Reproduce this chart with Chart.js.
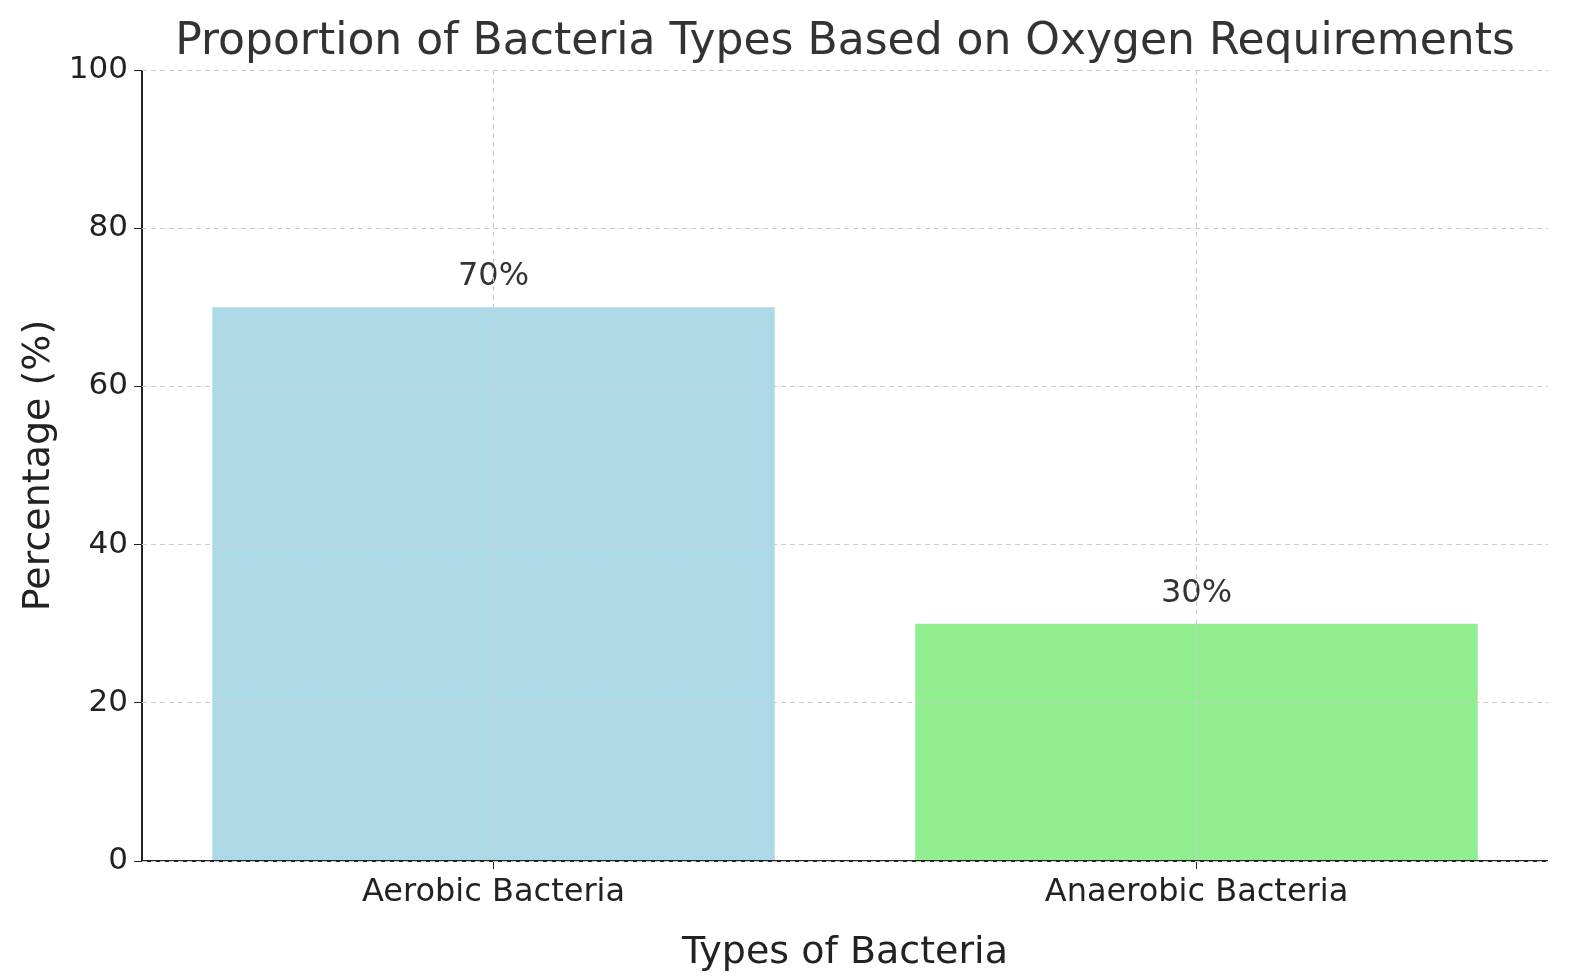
<!DOCTYPE html>
<html><head><meta charset="utf-8">
<script src="https://cdn.jsdelivr.net/npm/chart.js@4"></script>
<style>html,body{margin:0;padding:0;background:#fff;overflow:hidden}#w{width:1580px;height:980px}</style>
</head><body><div id="w"><canvas id="c"></canvas></div>
<script>
const categories = ["Aerobic Bacteria", "Anaerobic Bacteria"];
const percentages = [70, 30];
const barColors = ["#add8e6", "#90ee90"];
const yTicks = [0, 20, 40, 60, 80, 100];

const F = "'DejaVu Sans', sans-serif";
const labelPlugin = {
  id: 'labels',
  afterDatasetsDraw(chart) {
    const ctx = chart.ctx;
    const a = chart.chartArea;
    const meta = chart.getDatasetMeta(0);
    ctx.save();
    ctx.strokeStyle = '#222';
    ctx.lineWidth = 2;
    ctx.beginPath();
    ctx.moveTo(a.left, a.top); ctx.lineTo(a.left, a.bottom); ctx.lineTo(a.right, a.bottom);
    ctx.stroke();
    ctx.fillStyle = '#333';
    ctx.font = "32px " + F;
    ctx.textAlign = 'center';
    ctx.textBaseline = 'alphabetic';
    meta.data.forEach((bar, i) => {
      const y = chart.scales.y.getPixelForValue(percentages[i]);
      ctx.fillText(percentages[i] + '%', bar.x, y - 22);
    });
    ctx.font = "44px " + F;
    ctx.fillText('Proportion of Bacteria Types Based on Oxygen Requirements', (a.left + a.right) / 2, 54);
    ctx.restore();
  }
};

new Chart(document.getElementById('c'), {
  type: 'bar',
  data: { labels: categories, datasets: [{ data: percentages, backgroundColor: barColors, barPercentage: 0.8, categoryPercentage: 1.0 }] },
  options: {
    responsive: true, maintainAspectRatio: false, animation: false,
    layout: { padding: { top: 70, right: 32, left: 12, bottom: 0 } },
    plugins: { legend: { display: false }, tooltip: { enabled: false } },
    scales: {
      x: {
        offset: true,
        grid: { offset: false, color: '#ccc', tickBorderDash: [], tickColor: '#222', tickLength: 8, z: 1 },
        border: { display: false, dash: [5, 4] },
        ticks: { color: '#222', font: { family: F, size: 32 }, padding: 4 },
        title: { display: true, text: 'Types of Bacteria', color: '#222', font: { family: F, size: 38 }, padding: { top: 4 } },
        afterFit(s) { s.height = 119; }
      },
      y: {
        min: 0, max: 100,
        afterBuildTicks(s) { s.ticks = yTicks.map(v => ({ value: v })); },
        grid: { color: '#ccc', tickBorderDash: [], tickColor: '#222', tickLength: 8, z: 1 },
        border: { display: false, dash: [5, 4] },
        ticks: { color: '#222', font: { family: F, size: 31 }, padding: 6 },
        title: { display: true, text: 'Percentage (%)', color: '#222', font: { family: F, size: 38 }, padding: { bottom: 10 } },
        afterFit(s) { s.width = 130; }
      }
    }
  },
  plugins: [labelPlugin]
});
</script></body></html>
